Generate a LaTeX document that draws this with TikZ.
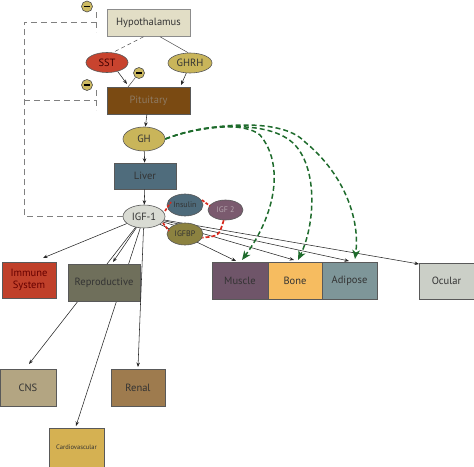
\documentclass[tikz,border=0pt]{standalone}
\usepackage{fontspec}
\setmainfont{PT Sans}
\usetikzlibrary{shapes.geometric,arrows.meta,calc}
\definecolor{grn}{HTML}{1E6B2C}
\definecolor{rdd}{HTML}{D62A1E}
\definecolor{cHyp}{HTML}{E2DEC6}
\definecolor{cSST}{HTML}{C8432E}
\definecolor{cGH}{HTML}{C9B55A}
\definecolor{cPit}{HTML}{7A4A12}
\definecolor{cPitT}{HTML}{8E7A62}
\definecolor{cLiv}{HTML}{4F6C7C}
\definecolor{cIGF}{HTML}{D9DBD3}
\definecolor{cIns}{HTML}{4E6B7B}
\definecolor{cIG2}{HTML}{7A5A6E}
\definecolor{cIG2T}{HTML}{B3A4AC}
\definecolor{cBP}{HTML}{8C8240}
\definecolor{cImm}{HTML}{C0402A}
\definecolor{cRep}{HTML}{6F6F5B}
\definecolor{cCNS}{HTML}{B3A582}
\definecolor{cRen}{HTML}{9E7B4E}
\definecolor{cCar}{HTML}{D5B152}
\definecolor{cMus}{HTML}{6F5569}
\definecolor{cBon}{HTML}{F6BC60}
\definecolor{cAdi}{HTML}{7E9699}
\definecolor{cOcu}{HTML}{CBCFC7}
\definecolor{cMin}{HTML}{CDBA62}
\tikzset{
  bx/.style={rectangle, draw=black!65, line width=0.6pt, inner sep=1pt,
    font=\fontsize{10.5}{11.5}\selectfont, align=center, text=black!80},
  el/.style={ellipse, draw=black!65, line width=0.6pt, inner sep=0pt,
    font=\fontsize{10.5}{12}\selectfont, text=black!80},
  sel/.style={el, font=\fontsize{8}{9}\selectfont},
  arr/.style={draw=black!85, line width=0.55pt, -{Stealth[length=4.5pt,width=3.5pt]}},
  ln/.style={draw=black!70, line width=0.5pt},
  fb/.style={draw=black!50, line width=1pt, dash pattern=on 6pt off 4pt},
  gr/.style={draw=grn, line width=1.5pt, dash pattern=on 5pt off 3pt,
    -{Stealth[length=9pt,width=7.5pt,inset=2.5pt]}},
  rd/.style={draw=rdd, line width=1.7pt, dash pattern=on 4pt off 2pt},
  mn/.style={circle, draw=black!70, fill=cMin, minimum size=11pt, inner sep=0pt,
    line width=0.6pt,
    path picture={\draw[line width=1.6pt,black]
      ([xshift=-3pt]path picture bounding box.center) --
      ([xshift=3pt]path picture bounding box.center);}}
}
\begin{document}
\begin{tikzpicture}[x=1pt,y=-1pt]
\useasboundingbox (0,0) rectangle (474,466);

% --- nodes: hypothalamic-pituitary axis
\node[bx, fill=cHyp, draw=black!45, minimum width=83pt, minimum height=27pt] (hyp) at (148.5,23) {Hypothalamus};
\node[el, fill=cSST, text=black!75!red, minimum width=42pt, minimum height=20pt] (sst) at (107,62.5) {SST};
\node[el, fill=cGH, minimum width=44pt, minimum height=20pt] (ghrh) at (190,63) {GHRH};
\node[bx, fill=cPit, text=cPitT, minimum width=83pt, minimum height=27pt] (pit) at (148.5,100.5) {Pituitary};
\node[el, fill=cGH, minimum width=42pt, minimum height=24pt] (gh) at (144,139) {GH};
\node[bx, fill=cLiv, minimum width=62pt, minimum height=26pt] (liv) at (145,176) {Liver};
\node[el, fill=cIGF, minimum width=42pt, minimum height=23pt] (igf) at (144,216.5) {IGF-1};

% --- target tissues
\node[bx, fill=cImm, text=black!60!red, minimum width=54pt, minimum height=36pt] (imm) at (29,280) {Immune\\System};
\node[bx, fill=cCNS, minimum width=56pt, minimum height=37pt] (cns) at (28,387.5) {CNS};
\node[bx, fill=cRen, minimum width=54pt, minimum height=37pt] (ren) at (138,387.5) {Renal};
\node[bx, fill=cCar, font=\fontsize{6.5}{8}\selectfont, minimum width=55pt, minimum height=39pt] (car) at (76.5,447.5) {Cardiovascular};
\node[bx, fill=cMus, minimum width=56pt, minimum height=37pt] (mus) at (240,280.5) {Muscle};
\node[bx, fill=cBon, minimum width=54pt, minimum height=37pt] (bon) at (295,280.5) {Bone};
\node[bx, fill=cAdi, minimum width=55pt, minimum height=37pt] (adi) at (349.5,280.5) {Adipose};
\node[bx, fill=cOcu, minimum width=55pt, minimum height=36pt] (ocu) at (446.5,281) {Ocular};

% --- coordinates
\coordinate (tCNS) at (29,364);
\coordinate (tCar) at (76,426);
\coordinate (tRep) at (113,262);
\coordinate (tImm) at (43,258);
\coordinate (tRen) at (138,367);
\coordinate (tMus) at (236,261);
\coordinate (tBon) at (294,260);
\coordinate (tAdi) at (349,261);
\coordinate (tOcu) at (419,264);
\coordinate (gMus) at (242,260);
\coordinate (gBon) at (298,260);
\coordinate (gAdi) at (355,259);

% --- arrows from IGF-1 (drawn before the boxes they pass behind)
\draw[arr] (igf) -- (tCNS);
\draw[arr] (igf) -- (tCar);
\node[bx, fill=cRep, minimum width=72pt, minimum height=37pt] (rep) at (104,282.5) {Reproductive};
\draw[arr] (igf) -- (tImm);
\draw[arr] (igf) -- (tRep);
\draw[arr] (igf) -- (tRen);
\draw[arr] (igf) -- (tMus);
\draw[arr] (igf) -- (tBon);
\draw[arr] (igf) -- (tAdi);
\draw[arr] (igf) -- (tOcu);

% --- binding partners
\node[sel, fill=cIns, minimum width=36pt, minimum height=22pt] (ins) at (185,205) {Insulin};
\node[sel, fill=cIG2, text=cIG2T, minimum width=35pt, minimum height=20pt] (ig2) at (225.5,210) {IGF 2};
\node[sel, fill=cBP, minimum width=36pt, minimum height=22pt] (bp) at (185,234) {IGFBP};
\coordinate (r1a) at (165,211);
\coordinate (r1b) at (171,202);
\coordinate (r2a) at (202,200);
\coordinate (r2b) at (210,206);
\coordinate (r3a) at (163,223);
\coordinate (r3b) at (169,231);
\draw[rd, dash pattern=on 3pt off 1.5pt] (r1a) -- (r1b);
\draw[rd, dash pattern=on 3pt off 1.5pt] (r2a) -- (r2b);
\draw[rd, dash pattern=on 3pt off 1.5pt] (r3a) -- (r3b);
\draw[rd] (ig2.-100) .. controls (219,236) .. (bp.-12);

% --- axis connectors
\draw[ln, dashed, dash pattern=on 4pt off 3pt] (hyp.-90) ++(-5,0) coordinate (hs) (hs) -- (sst.60);
\draw[ln] (hyp.-50) -- (ghrh.100);
\coordinate (sstEnd) at (127,84);
\coordinate (ghrhEnd) at (181,85);
\coordinate (pitTop) at (128,87);
\draw[arr] (sst.-40) -- (sstEnd);
\draw[arr] (ghrh.-110) -- (ghrhEnd);
\draw[arr] (pit) -- (gh);
\draw[arr] (gh) -- (liv);
\draw[arr] (liv) -- (igf);

% --- inhibition symbols
\node[mn] (m1) at (87,6.5) {};
\node[mn] (m2) at (139,73) {};
\node[mn] (m3) at (87,85) {};
\draw[ln] (m2) -- (pitTop);

% --- negative feedback (dashed grey)
\coordinate (fbA) at (24,216.5);
\coordinate (fbB) at (24,22);
\coordinate (fbC) at (96,22);
\coordinate (fbD) at (24,100);
\coordinate (fbE) at (96,100);
\draw[fb] (igf.west) -- (fbA) -- (fbB) -- (fbC);
\draw[fb] ($(fbC)+(0,-10)$) -- ($(fbC)+(0,10)$);
\draw[fb] (fbD) -- (fbE);
\draw[fb] ($(fbE)+(0,-10)$) -- ($(fbE)+(0,10)$);

% --- GH direct actions (green dashed)
\draw[gr] (gh.east) .. controls (200,125) and (245,122) .. (260,135)
  .. controls (285,165) and (275,215) .. (gMus);
\draw[gr] (gh.east) .. controls (200,125) and (270,118) .. (295,145)
  .. controls (318,170) and (315,225) .. (gBon);
\draw[gr] (gh.east) .. controls (200,125) and (280,115) .. (305,142)
  .. controls (345,175) and (360,220) .. (gAdi);
\end{tikzpicture}
\end{document}
